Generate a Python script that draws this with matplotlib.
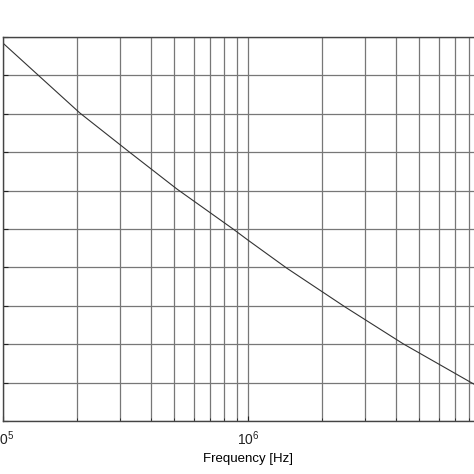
import numpy as np
import matplotlib
matplotlib.use("Agg")
import matplotlib.pyplot as plt

plt.rcParams['font.family'] = ['Liberation Sans', 'DejaVu Sans']

# frequency [Hz] and response (arbitrary linear units, y labels are cut off in the source)
freq = [1.0e5, 1.39e5, 2.06e5, 3.24e5, 5.13e5, 8.69e5, 1.0e6,
        1.44e6, 2.49e6, 4.30e6, 8.20e6, 1.0e7]
resp = [9.84, 9.01, 8.02, 7.03, 6.04, 5.00, 4.71,
        3.98, 2.97, 2.01, 0.99, 0.68]

W = H = 474
fig = plt.figure(figsize=(W / 100, H / 100), dpi=100)
# axes run past the right edge of the picture like the cropped original
ax = fig.add_axes([3 / W, 53 / H, 490 / W, 384 / H])

ax.plot(freq, resp, color='#333333', lw=0.8)

ax.set_xscale('log')
ax.set_xlim(1e5, 1e7)
ax.set_xticks([1e5, 1e6])
ax.set_ylim(0, 10)
ax.set_yticks(np.arange(0, 11, 1))
ax.set_yticklabels([])

ax.grid(True, which='both', color='#777777', lw=0.9)
ax.tick_params(which='both', direction='in', labelsize=10, pad=6, colors='#222222')
for s in ax.spines.values():
    s.set_color('#444444')
    s.set_linewidth(1.0)

ax.set_xlabel('Frequency [Hz]', fontsize=9.5, labelpad=4)

fig.savefig('out.png', dpi=100)
